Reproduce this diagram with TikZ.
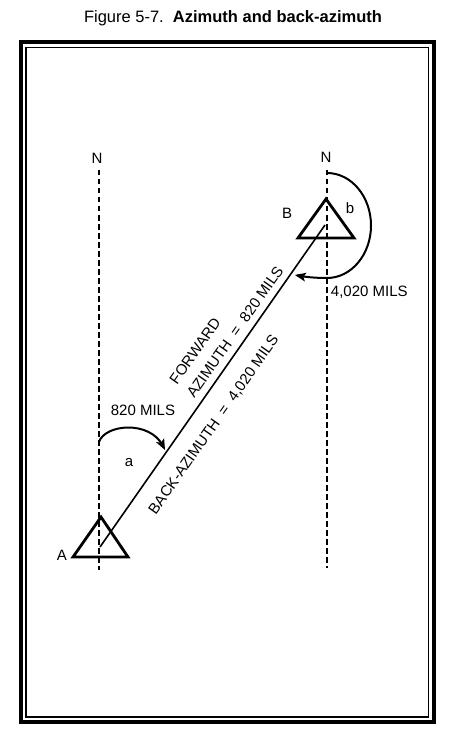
\documentclass[tikz,border=0pt]{standalone}
\usepackage{fontspec}
\setmainfont{Liberation Sans}
\usepackage{tikz}

\begin{document}
\begin{tikzpicture}[x=1pt,y=1pt,yscale=-1,xscale=1,
  tri/.style={line width=2.8, line join=miter},
  north/.style={line width=1.6, dash pattern=on 5.5pt off 3.5pt},
  turn/.style={line width=2},
  lbl/.style={font=\fontsize{15}{18}\selectfont, inner sep=0.75pt}]
\path (0,0) rectangle (450,743); %set diagram size to the reference

%Frame
\draw [line width=4]   (20.5,42.5) rectangle (434,722) ;
\draw [line width=1.5] (26,47.5) rectangle (428.5,717) ;

%Points
\coordinate (A) at (100,547) ;
\coordinate (B) at (325,225) ;
\coordinate (na top) at (99,170) ;
\coordinate (na bot) at (99,570) ;
\coordinate (nb top) at (327,170) ;
\coordinate (nb bot) at (327,568) ;

%Straight Lines (north lines)
\draw [north]   (na top) -- (na bot) ;
\draw [north]   (nb top) -- (nb bot) ;
%Straight Lines (A to B)
\draw [line width=1.6]   (A) -- (B) ;
%Shape: Triangle A
\draw [tri]   (101,517) -- (128,557) -- (73,557) -- cycle ;
%Shape: Triangle B
\draw [tri]   (326,199) -- (354,238) -- (298,238) -- cycle ;

%Curve Lines (angle a)
\draw [turn]   (99,442) .. controls (105,424) and (150,420) .. (163,446) ;
\fill [shift={(165,450)}, rotate=243.4]   (0,0) -- (11,-4.5) -- (8.5,0) -- (11,4.5) -- cycle ;
%Curve Lines (angle b)
\draw [turn]   (327,173) .. controls (351.3,173) and (371,196.5) .. (371,225.5) .. controls (371,254.5) and (351.3,278) .. (327,278) .. controls (315,278) and (305,277) .. (297,275.4) ;
\fill [shift={(295,275)}, rotate=11.3]   (0,0) -- (11,-4.5) -- (8.5,0) -- (11,4.5) -- cycle ;

% Text Node
\node [lbl, font=\fontsize{16.5}{19}\selectfont] (title) at (233,18) {Figure 5-7.\ \ \textbf{Azimuth and back-azimuth}};
% Text Node
\node [lbl] (na) at (97,158) {N};
% Text Node
\node [lbl] (nb) at (326,157) {N};
% Text Node
\node [lbl] (la) at (62,555) {A};
% Text Node
\node [lbl] (lb) at (287,213) {B};
% Text Node
\node [lbl] (anga) at (129,463) {a};
% Text Node
\node [lbl] (angb) at (350,208) {b};
% Text Node
\node [lbl] (mils a) at (143,410) {820 MILS};
% Text Node
\node [lbl, anchor=west] (mils b) at (330,292) {4,020 MILS};
% Text Node
\node [lbl, rotate=55] (fwd) at (195,351) {FORWARD};
% Text Node
\node [lbl, rotate=55] (fwd az) at (235,332) {AZIMUTH\ \ =\ \ 820 MILS};
% Text Node
\node [lbl, rotate=55] (back az) at (214,425) {BACK-AZIMUTH\ \ =\ \ 4,020 MILS};

\end{tikzpicture}
\end{document}
